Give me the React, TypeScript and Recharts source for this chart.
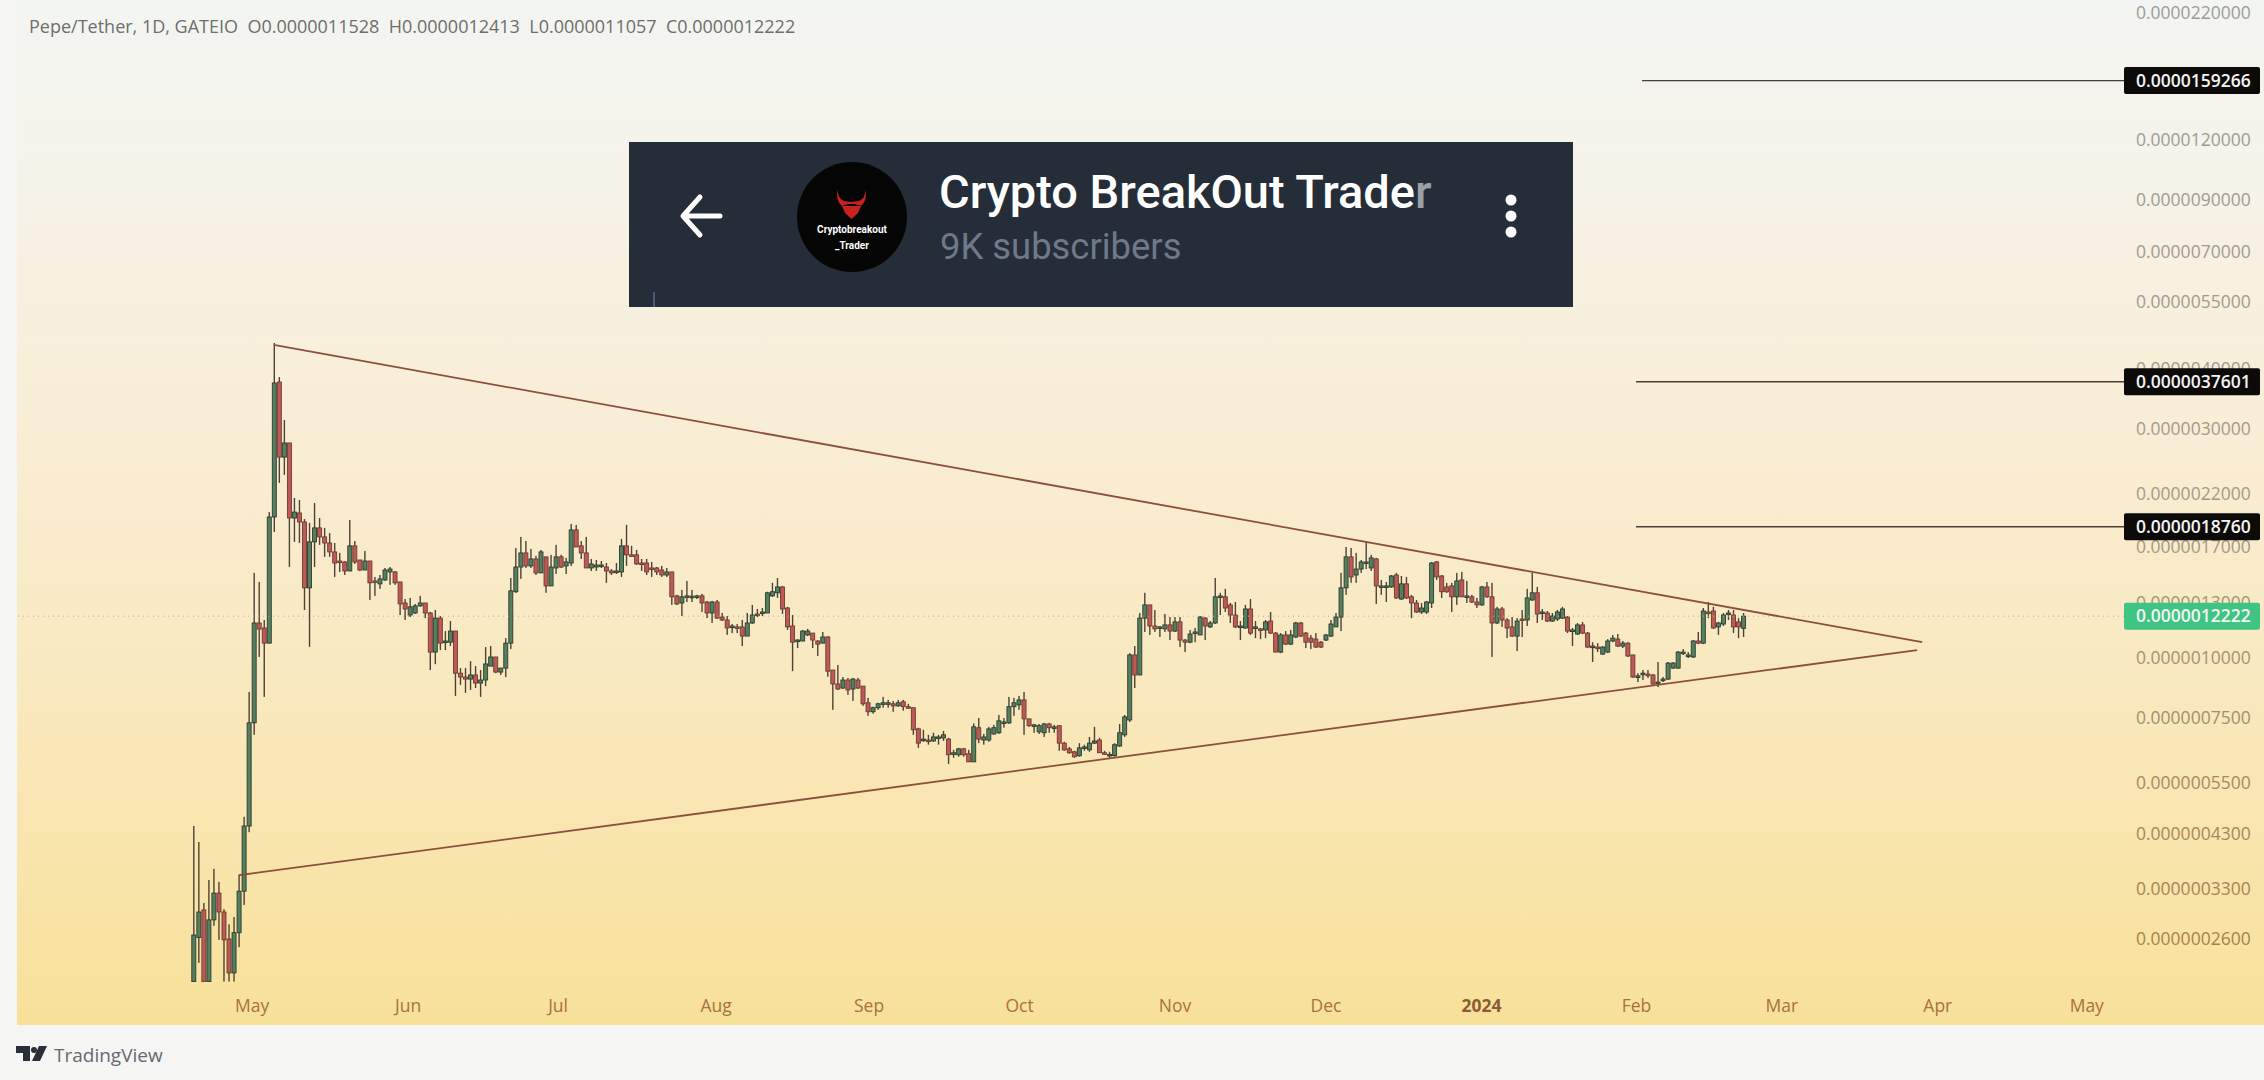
// Pepe/Tether daily candles with the triangle trendlines, redrawn with Recharts.
import {
  ComposedChart,
  Bar,
  XAxis,
  YAxis,
  ReferenceLine,
} from "recharts";

// All prices are stored in units of 1e-9 USDT.
const PRICE_UNIT = 1e-9;

const opens = [
  212, 262, 299, 212, 285, 324, 296, 260, 221, 268,
  327, 447, 733, 1183, 1155, 1074, 1966, 3755, 2620, 2804,
  1957, 2004, 1920, 1400, 1745, 1866, 1787, 1736, 1663, 1592,
  1585, 1518, 1712, 1600, 1525, 1592, 1447, 1427, 1454, 1511,
  1511, 1440, 1302, 1229, 1241, 1284, 1302, 1241, 1029, 1211,
  1079, 1079, 1138, 930, 913, 904, 922, 887, 900, 962,
  1005, 935, 953, 1074, 1374, 1547, 1655, 1555, 1608, 1504,
  1624, 1413, 1540, 1624, 1555, 1577, 1848, 1712, 1655, 1540,
  1547, 1555, 1547, 1518, 1511, 1511, 1712, 1640, 1640, 1577,
  1577, 1540, 1540, 1525, 1489, 1511, 1347, 1302, 1341, 1341,
  1341, 1347, 1308, 1241, 1308, 1217, 1200, 1161, 1161, 1161,
  1111, 1183, 1235, 1241, 1241, 1347, 1367, 1406, 1271, 1166,
  1085, 1085, 1117, 1127, 1085, 1074, 1106, 944, 883, 866,
  900, 862, 900, 874, 807, 773, 788, 803, 803, 803,
  795, 811, 792, 788, 712, 675, 675, 672, 682, 682,
  678, 632, 629, 647, 632, 608, 716, 675, 675, 695,
  699, 733, 733, 792, 799, 818, 747, 723, 702, 699,
  729, 716, 723, 665, 647, 638, 626, 650, 644, 665,
  675, 635, 629, 626, 656, 692, 743, 1015, 922, 1211,
  1290, 1166, 1155, 1150, 1172, 1138, 1189, 1090, 1079, 1127,
  1117, 1211, 1161, 1183, 1341, 1341, 1290, 1229, 1161, 1155,
  1265, 1155, 1150, 1144, 1194, 1127, 1029, 1117, 1069, 1106,
  1183, 1127, 1100, 1095, 1079, 1090, 1111, 1161, 1217, 1400,
  1624, 1489, 1532, 1577, 1540, 1608, 1406, 1406, 1406, 1489,
  1327, 1427, 1341, 1302, 1247, 1247, 1302, 1585, 1482, 1406,
  1413, 1341, 1454, 1341, 1341, 1308, 1290, 1406, 1341, 1183,
  1265, 1200, 1161, 1111, 1206, 1200, 1321, 1367, 1241, 1241,
  1194, 1206, 1211, 1217, 1138, 1122, 1172, 1127, 1054, 1054,
  1019, 1029, 1085, 1095, 1059, 1074, 1015, 913, 926, 926,
  922, 887, 900, 904, 953, 953, 1024, 1010, 1005, 1085,
  1074, 1247, 1253, 1161, 1177, 1235, 1229, 1189, 1153,
];

const closes = [
  265, 296, 212, 285, 324, 296, 259, 221, 268, 327,
  447, 733, 1183, 1149, 1074, 1966, 3738, 2620, 2804, 1957,
  2013, 1920, 1400, 1745, 1866, 1787, 1736, 1663, 1577, 1585,
  1518, 1712, 1585, 1525, 1592, 1434, 1440, 1461, 1525, 1532,
  1434, 1296, 1265, 1278, 1284, 1302, 1241, 1029, 1211, 1074,
  1085, 1138, 930, 913, 904, 922, 887, 900, 972, 1005,
  935, 953, 1074, 1380, 1547, 1655, 1555, 1608, 1504, 1663,
  1413, 1547, 1624, 1547, 1585, 1848, 1703, 1655, 1540, 1570,
  1562, 1562, 1518, 1504, 1518, 1712, 1640, 1632, 1570, 1570,
  1511, 1532, 1511, 1489, 1511, 1341, 1296, 1341, 1347, 1345,
  1347, 1302, 1241, 1308, 1211, 1200, 1155, 1166, 1155, 1111,
  1183, 1229, 1229, 1247, 1367, 1374, 1406, 1265, 1161, 1079,
  1090, 1138, 1138, 1090, 1069, 1106, 939, 883, 862, 900,
  858, 904, 866, 803, 773, 788, 803, 807, 807, 795,
  807, 792, 788, 709, 665, 678, 672, 685, 685, 692,
  629, 635, 647, 629, 608, 719, 678, 685, 712, 716,
  740, 736, 792, 807, 818, 747, 723, 726, 723, 729,
  716, 719, 665, 644, 635, 623, 650, 653, 665, 672,
  635, 632, 630, 660, 699, 754, 1015, 922, 1211, 1290,
  1166, 1150, 1161, 1172, 1138, 1189, 1090, 1079, 1122, 1133,
  1217, 1166, 1183, 1341, 1347, 1271, 1229, 1161, 1166, 1265,
  1127, 1161, 1144, 1189, 1127, 1029, 1117, 1069, 1117, 1183,
  1111, 1079, 1079, 1054, 1054, 1117, 1177, 1217, 1400, 1624,
  1475, 1532, 1585, 1585, 1616, 1413, 1413, 1413, 1482, 1334,
  1427, 1334, 1302, 1247, 1271, 1308, 1577, 1475, 1374, 1374,
  1341, 1447, 1341, 1347, 1308, 1290, 1406, 1341, 1183, 1265,
  1200, 1155, 1111, 1194, 1200, 1334, 1367, 1235, 1247, 1194,
  1223, 1247, 1265, 1138, 1144, 1172, 1127, 1054, 1059, 1049,
  1054, 1085, 1100, 1059, 1074, 1010, 913, 918, 930, 922,
  883, 891, 904, 976, 976, 1029, 1029, 1015, 1085, 1074,
  1253, 1241, 1155, 1183, 1229, 1241, 1161, 1161, 1222,
];

const highs = [
  447, 414, 309, 345, 364, 342, 300, 279, 289, 353,
  467, 850, 1504, 1440, 1200, 2013, 4528, 3845, 3130, 2804,
  2154, 2133, 1947, 1911, 2103, 1957, 1866, 1821, 1736, 1655,
  1592, 1938, 1752, 1600, 1671, 1592, 1475, 1489, 1540, 1547,
  1518, 1440, 1327, 1334, 1296, 1347, 1302, 1247, 1259, 1223,
  1138, 1194, 1138, 953, 953, 985, 962, 944, 1054, 1059,
  1005, 953, 1100, 1468, 1695, 1787, 1752, 1687, 1632, 1679,
  1624, 1640, 1720, 1640, 1616, 1902, 1893, 1752, 1787, 1608,
  1600, 1592, 1577, 1532, 1577, 1770, 1893, 1712, 1679, 1608,
  1608, 1585, 1547, 1555, 1540, 1511, 1354, 1386, 1447, 1386,
  1354, 1360, 1315, 1315, 1321, 1241, 1223, 1177, 1177, 1200,
  1241, 1290, 1265, 1271, 1374, 1434, 1468, 1413, 1278, 1229,
  1095, 1144, 1150, 1127, 1090, 1133, 1111, 944, 967, 913,
  909, 909, 909, 874, 826, 792, 807, 830, 818, 814,
  818, 818, 803, 788, 716, 709, 692, 699, 692, 705,
  682, 644, 650, 650, 644, 731, 750, 695, 719, 726,
  761, 750, 830, 826, 834, 850, 747, 729, 729, 733,
  733, 726, 723, 669, 653, 641, 665, 660, 685, 719,
  682, 641, 638, 665, 729, 761, 1024, 1059, 1241, 1367,
  1290, 1259, 1166, 1235, 1217, 1217, 1217, 1095, 1144, 1155,
  1223, 1217, 1194, 1468, 1367, 1393, 1302, 1308, 1194, 1290,
  1327, 1194, 1155, 1200, 1247, 1133, 1127, 1138, 1144, 1189,
  1189, 1133, 1117, 1127, 1085, 1122, 1200, 1241, 1504, 1703,
  1695, 1655, 1600, 1752, 1640, 1616, 1454, 1440, 1489, 1504,
  1482, 1475, 1354, 1321, 1302, 1315, 1585, 1592, 1489, 1434,
  1434, 1504, 1511, 1447, 1354, 1334, 1413, 1440, 1434, 1278,
  1278, 1211, 1217, 1211, 1259, 1393, 1504, 1406, 1265, 1253,
  1241, 1259, 1278, 1223, 1155, 1183, 1189, 1133, 1079, 1074,
  1059, 1095, 1117, 1122, 1085, 1079, 1015, 930, 944, 944,
  926, 981, 913, 981, 981, 1034, 1044, 1029, 1090, 1133,
  1271, 1308, 1278, 1189, 1241, 1259, 1259, 1211, 1241,
];

const lows = [
  212, 232, 212, 212, 277, 259, 212, 212, 212, 250,
  306, 434, 692, 1005, 830, 1074, 1830, 2315, 2405, 1547,
  1745, 1736, 1259, 1055, 1547, 1720, 1624, 1624, 1475, 1511,
  1489, 1518, 1570, 1518, 1525, 1321, 1347, 1393, 1447, 1420,
  1420, 1229, 1200, 1217, 1235, 1278, 1211, 944, 971, 1039,
  1039, 1059, 834, 879, 846, 858, 866, 830, 874, 962,
  930, 922, 913, 1044, 1367, 1461, 1540, 1540, 1489, 1504,
  1367, 1413, 1496, 1540, 1496, 1555, 1703, 1608, 1540, 1518,
  1518, 1540, 1434, 1489, 1496, 1475, 1555, 1624, 1562, 1518,
  1489, 1475, 1489, 1475, 1475, 1290, 1290, 1223, 1308, 1308,
  1327, 1247, 1211, 1183, 1206, 1194, 1117, 1127, 1127, 1059,
  1111, 1177, 1217, 1223, 1241, 1341, 1334, 1235, 1144, 939,
  1049, 1085, 1111, 1049, 1010, 1074, 914, 780, 858, 862,
  838, 814, 862, 795, 758, 766, 780, 788, 788, 773,
  792, 777, 784, 692, 650, 669, 660, 669, 660, 672,
  602, 620, 623, 623, 608, 608, 665, 660, 669, 692,
  695, 716, 729, 758, 780, 692, 719, 699, 695, 685,
  699, 699, 641, 641, 632, 620, 623, 641, 638, 662,
  635, 629, 620, 623, 653, 685, 736, 866, 922, 1133,
  1117, 1133, 1106, 1133, 1090, 1133, 1054, 1029, 1074, 1079,
  1117, 1090, 1155, 1177, 1229, 1247, 1183, 1155, 1090, 1150,
  1117, 1100, 1095, 1100, 1122, 1029, 1024, 1064, 1064, 1100,
  1106, 1049, 1044, 1049, 1049, 1085, 1106, 1161, 1138, 1354,
  1434, 1434, 1504, 1532, 1518, 1296, 1354, 1308, 1400, 1327,
  1321, 1327, 1211, 1241, 1235, 1235, 1271, 1454, 1334, 1367,
  1247, 1290, 1341, 1302, 1302, 1271, 1284, 1334, 1005, 1177,
  1161, 1100, 1106, 1034, 1106, 1166, 1315, 1183, 1200, 1189,
  1189, 1194, 1206, 1127, 1059, 1117, 1122, 1049, 981, 1029,
  1015, 1024, 1079, 1054, 1049, 1005, 909, 891, 900, 909,
  879, 870, 891, 900, 949, 949, 1015, 1000, 1000, 1069,
  1069, 1211, 1150, 1117, 1166, 1200, 1127, 1100, 1106,
];

// axis ticks
const priceTicks = [
  22000, 12000, 9000, 7000, 5500, 4000, 3000, 2200, 1700, 1300, 1000, 750,
  550, 430, 330, 260,
];
const levelPrices = [15926.6, 3760.1, 1876];
const lastPrice = 1222.2;
const monthLabels = [
  "May", "Jun", "Jul", "Aug", "Sep", "Oct", "Nov", "Dec", "2024", "Feb", "Mar", "Apr", "May",
];
const monthPositions = [
  11.7, 42.7, 72.5, 103.9, 134.3, 164.2, 195.1, 225.1, 256, 286.8, 315.7, 346.7, 376.3,
];

// trendlines, in [candle index, price]
const upperTrend = [[16, 4485], [343.6, 1079]];
const lowerTrend = [[9, 353], [342.6, 1039]];
const levelStarts = [287.9, 286.7, 286.7];

const X_DOMAIN: [number, number] = [-35.04, 383.7];
const Y_DOMAIN: [number, number] = [211.6, 23440];

const candles = opens.map((open, i) => ({
  i,
  wick: [lows[i], highs[i]],
  body: [Math.min(open, closes[i]), Math.max(open, closes[i])],
  up: closes[i] >= open,
}));

const formatPrice = (v: number) => (v * PRICE_UNIT).toFixed(10);

// ── Candle parts ──────────────────────────────────────────────────────────────

function WickShape({ x, y, width, height }: any) {
  return <rect x={x + width / 2 - 0.7} y={y} width={1.4} height={height} fill="#4d4335" />;
}

function BodyShape({ x, y, width, height, payload }: any) {
  const h = Math.max(height, 1.6);
  return (
    <rect
      x={x}
      y={y}
      width={width}
      height={h}
      fill={payload.up ? "#55805f" : "#bd5a58"}
      stroke={payload.up ? "#2d3a2e" : "#6e3a30"}
      strokeWidth={0.9}
    />
  );
}

// ── Price axis ────────────────────────────────────────────────────────────────

function PriceTick({ x, y, payload }: any) {
  const v = payload.value;
  const isLevel = levelPrices.includes(v);
  const isLast = v === lastPrice;
  if (isLevel || isLast) {
    return (
      <g>
        <rect x={x} y={y - 13.5} width={136} height={27} rx={2} fill={isLast ? "#3fc483" : "#0d0b0a"} />
        <text x={x + 12} y={y + 6} fontSize={17.5} fontWeight={600} fontFamily="Open Sans" fill="#f4f4f4">
          {formatPrice(v)}
        </text>
      </g>
    );
  }
  return (
    <text x={x + 12} y={y + 6} fontSize={17.5} fontFamily="Open Sans" fill="url(#priceTickFill)">
      {formatPrice(v)}
    </text>
  );
}

function MonthTick({ x, y, payload }: any) {
  const label = monthLabels[monthPositions.indexOf(payload.value)];
  const isYear = label === "2024";
  return (
    <text
      x={x}
      y={y + 24}
      textAnchor="middle"
      fontSize={17.5}
      fontWeight={isYear ? 700 : 400}
      fontFamily="Open Sans"
      fill={isYear ? "#8c5a33" : "#a9713f"}
    >
      {label}
    </text>
  );
}

// ── Channel banner on top of the chart ────────────────────────────────────────

function ChannelBanner() {
  return (
    <div
      style={{
        position: "absolute",
        left: 629,
        top: 142,
        width: 944,
        height: 165,
        background: "#252d39",
        color: "#fff",
        fontFamily: "Roboto",
      }}
    >
      <svg width={944} height={165} style={{ position: "absolute", left: 0, top: 0 }}>
        <path d="M91 74 H55 M71 55 L54 74 L71 93" fill="none" stroke="#fff" strokeWidth={5} strokeLinecap="round" strokeLinejoin="round" />
        <circle cx={223} cy={75} r={55} fill="#050505" />
        <path d="M209 47 Q206 58 213 64 L219 62 H226 L232 64 Q239 58 236 47 Q237 56 230 59 L222 60 L215 59 Q208 56 209 47 Z" fill="#c8221e" />
        <path d="M213 64 L232 64 L229 71 L222.5 77 L216 71 Z" fill="#c8221e" />
        <text x={223} y={91} textAnchor="middle" fontSize={10} fontWeight={700} fill="#fff">Cryptobreakout</text>
        <text x={223} y={107} textAnchor="middle" fontSize={10} fontWeight={700} fill="#fff">_Trader</text>
        <circle cx={882} cy={58} r={5.5} fill="#fff" />
        <circle cx={882} cy={74} r={5.5} fill="#fff" />
        <circle cx={882} cy={90} r={5.5} fill="#fff" />
        <rect x={24} y={150} width={2} height={15} fill="#4a5a70" />
      </svg>
      <div style={{ position: "absolute", left: 310, top: 22, fontSize: 47, fontWeight: 500, lineHeight: "56px", whiteSpace: "nowrap" }}>
        Crypto BreakOut Trade<span style={{ color: "#9aa0a8" }}>r</span>
      </div>
      <div style={{ position: "absolute", left: 311, top: 83, fontSize: 36.4, lineHeight: "44px", color: "#6f7a88", whiteSpace: "nowrap" }}>
        9K subscribers
      </div>
    </div>
  );
}

export default function App() {
  return (
    <div style={{ position: "fixed", left: 0, top: 0, width: 2264, height: 1080, background: "#f5f5f3", overflow: "hidden" }}>
      {/* gradient pane */}
      <div
        style={{
          position: "absolute",
          left: 17,
          top: 0,
          width: 2247,
          height: 1025,
          background:
            "linear-gradient(180deg, #f3f5f2 0%, #f5f3ea 15%, #f8f0df 30%, #f9ecd0 48%, #f9e9c0 65%, #f9e5ae 82%, #f7e199 100%)",
        }}
      />

      <ComposedChart
        width={2264}
        height={1025}
        data={candles}
        margin={{ top: 0, right: 0, left: 17, bottom: 0 }}
        barGap={-4}
        style={{ position: "absolute", left: 0, top: 0 }}
      >
        <defs>
          <linearGradient id="priceTickFill" gradientUnits="userSpaceOnUse" x1={0} y1={0} x2={0} y2={960}>
            <stop offset="0%" stopColor="#9b9b97" />
            <stop offset="50%" stopColor="#a39a88" />
            <stop offset="100%" stopColor="#a67f4e" />
          </linearGradient>
        </defs>
        <XAxis
          dataKey="i"
          type="number"
          domain={X_DOMAIN}
          allowDataOverflow
          ticks={monthPositions}
          interval={0}
          height={43}
          axisLine={false}
          tickLine={false}
          tick={<MonthTick />}
          tickMargin={0}
        />
        <YAxis
          orientation="right"
          type="number"
          scale="log"
          domain={Y_DOMAIN}
          allowDataOverflow
          ticks={[...priceTicks, ...levelPrices, lastPrice]}
          interval={0}
          width={140}
          axisLine={false}
          tickLine={false}
          tickSize={0}
          tickMargin={0}
          tick={<PriceTick />}
        />
        <ReferenceLine y={lastPrice} stroke="#9fb58d" strokeDasharray="1 4" strokeWidth={1} />
        {levelPrices.map((v, idx) => (
          <ReferenceLine
            key={v}
            segment={[{ x: levelStarts[idx], y: v }, { x: X_DOMAIN[1], y: v }]}
            stroke="#4a3f38"
            strokeWidth={1.4}
          />
        ))}
        <Bar dataKey="wick" barSize={4} shape={<WickShape />} isAnimationActive={false} />
        <Bar dataKey="body" barSize={4} shape={<BodyShape />} isAnimationActive={false} />
        {[upperTrend, lowerTrend].map((t, idx) => (
          <ReferenceLine
            key={idx}
            segment={[{ x: t[0][0], y: t[0][1] }, { x: t[1][0], y: t[1][1] }]}
            stroke="#8d4f3a"
            strokeWidth={1.8}
          />
        ))}
      </ComposedChart>

      <div
        style={{
          position: "absolute",
          left: 29,
          top: 13,
          fontFamily: "Open Sans",
          fontSize: 18,
          lineHeight: "26px",
          color: "#6e6e6c",
          whiteSpace: "pre",
        }}
      >
        {"Pepe/Tether, 1D, GATEIO  O0.0000011528  H0.0000012413  L0.0000011057  C0.0000012222"}
      </div>

      <ChannelBanner />

      {/* TradingView mark */}
      <svg width={32} height={18} style={{ position: "absolute", left: 16, top: 1045 }}>
        <path d="M0 1 H14 V16 H7 V8 H0 Z" fill="#2a2e39" />
        <circle cx={18} cy={5} r={3} fill="#2a2e39" />
        <path d="M23 1 H31 L24 16 H16 Z" fill="#2a2e39" />
      </svg>
      <div style={{ position: "absolute", left: 54, top: 1041, fontFamily: "Open Sans", fontSize: 19, lineHeight: "28px", color: "#66696f" }}>
        TradingView
      </div>
    </div>
  );
}
